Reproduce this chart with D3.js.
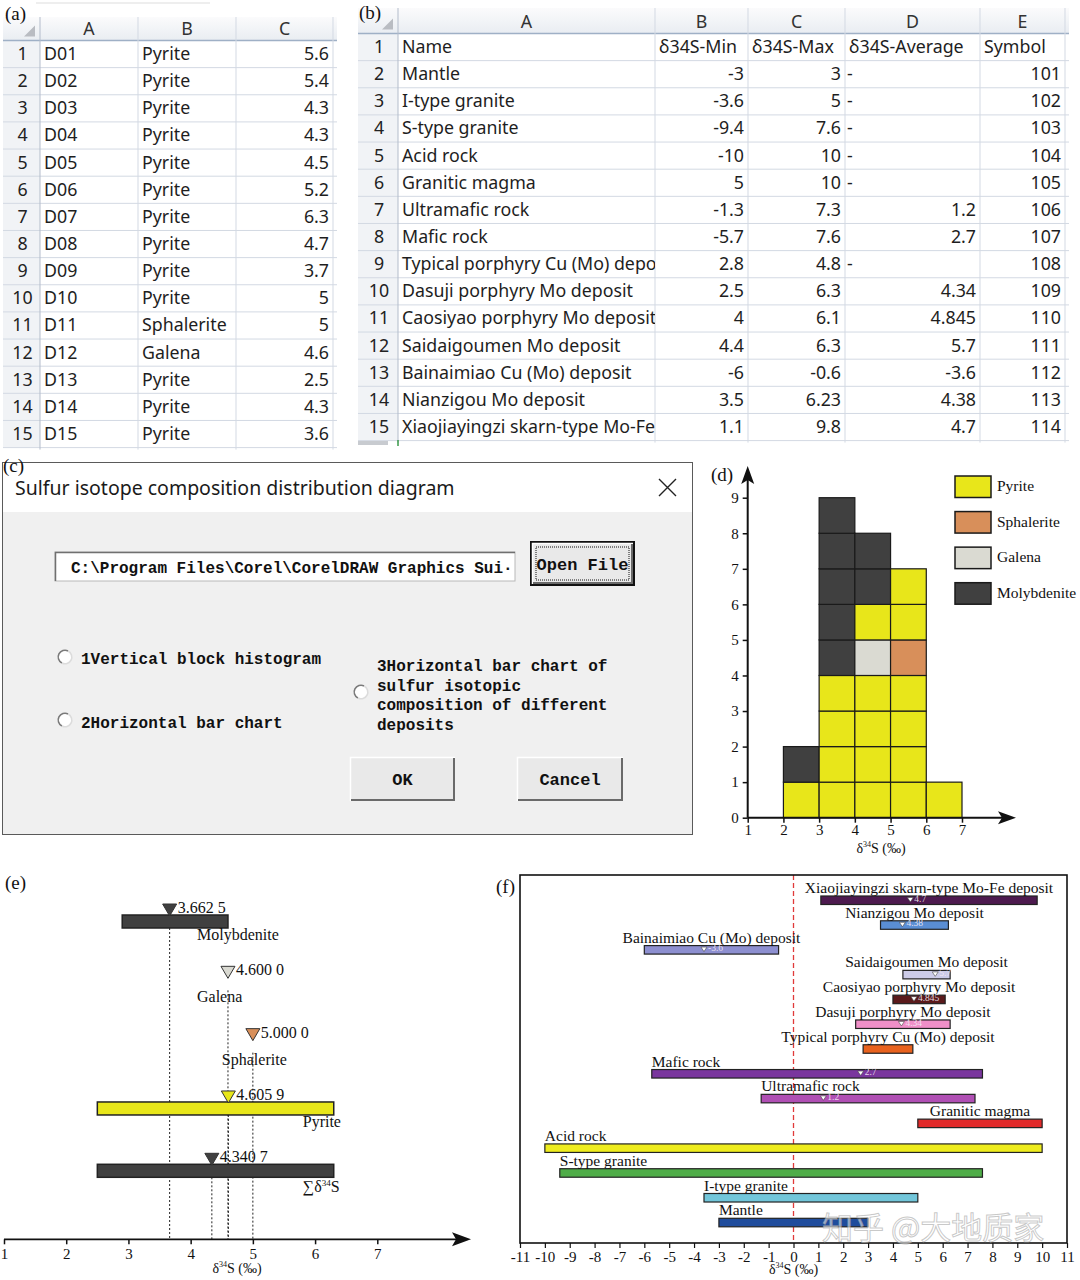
<!DOCTYPE html>
<html><head><meta charset="utf-8">
<script src="https://cdn.jsdelivr.net/npm/d3@7"></script>
<style>html,body{margin:0;padding:0;background:#fff}svg{display:block}</style>
</head><body>
<script>
// ---------------- DATA ----------------
const sampleIds = ["D01","D02","D03","D04","D05","D06","D07","D08","D09","D10","D11","D12","D13","D14","D15"];
const sampleMinerals = ["Pyrite","Pyrite","Pyrite","Pyrite","Pyrite","Pyrite","Pyrite","Pyrite","Pyrite","Pyrite","Sphalerite","Galena","Pyrite","Pyrite","Pyrite"];
const sampleValues = [5.6,5.4,4.3,4.3,4.5,5.2,6.3,4.7,3.7,5,5,4.6,2.5,4.3,3.6];

const depHeader = ["Name","δ34S-Min","δ34S-Max","δ34S-Average","Symbol"];
const depNames = ["Mantle","I-type granite","S-type granite","Acid rock","Granitic magma","Ultramafic rock","Mafic rock","Typical porphyry Cu (Mo) deposit","Dasuji porphyry Mo deposit","Caosiyao porphyry Mo deposit","Saidaigoumen Mo deposit","Bainaimiao Cu (Mo) deposit","Nianzigou Mo deposit","Xiaojiayingzi skarn-type Mo-Fe deposit"];
const depMin = [-3,-3.6,-9.4,-10,5,-1.3,-5.7,2.8,2.5,4,4.4,-6,3.5,1.1];
const depMax = [3,5,7.6,10,10,7.3,7.6,4.8,6.3,6.1,6.3,-0.6,6.23,9.8];
const depAvg = [null,null,null,null,null,1.2,2.7,null,4.34,4.845,5.7,-3.6,4.38,4.7];
const depSymbol = [101,102,103,104,105,106,107,108,109,110,111,112,113,114];

const dialogTitle = "Sulfur isotope composition distribution diagram";
const dialogPath = "C:\\Program Files\\Corel\\CorelDRAW Graphics Sui·";
const dialogOptions = ["1Vertical block histogram","2Horizontal bar chart"];
const dialogOption3 = ["3Horizontal bar chart of","sulfur isotopic","composition of different","deposits"];

// (d) block histogram: bins (left edge) and stacked blocks bottom->top
const blockBins = [2,3,4,5,6];
const blockStacks = [
  ["Pyrite","Molybdenite"],
  ["Pyrite","Pyrite","Pyrite","Pyrite","Molybdenite","Molybdenite","Molybdenite","Molybdenite","Molybdenite"],
  ["Pyrite","Pyrite","Pyrite","Pyrite","Galena","Pyrite","Molybdenite","Molybdenite"],
  ["Pyrite","Pyrite","Pyrite","Pyrite","Sphalerite","Pyrite","Pyrite"],
  ["Pyrite"]
];
const legendMinerals = ["Pyrite","Sphalerite","Galena","Molybdenite"];
const histXTicks = [1,2,3,4,5,6,7];
const histYTicks = [0,1,2,3,4,5,6,7,8,9];

// (e) horizontal bars per mineral
const barMinerals = ["Molybdenite","Galena","Sphalerite","Pyrite","Sum"];
const barMin = [2.9,4.6,5.0,2.5,2.5];
const barMax = [4.6,4.6,5.0,6.3,6.3];
const barMean = [3.6625,4.6,5.0,4.6059,4.3407];
const barXTicks = [1,2,3,4,5,6,7];

// (f) ticks
const depXTicks = d3.range(-11,12);

// ---------------- STYLE ----------------
const mineralColor = {Pyrite:"#e8e61a",Sphalerite:"#d88f5a",Galena:"#dadad2",Molybdenite:"#404040",Sum:"#404040"};
const depColor = ["#1f4c9c","#72c6da","#4fad48","#eeec1e","#e12a2a","#b04fb4","#7a369e","#e8621e","#f08fc8","#5a1a1c","#cccbe8","#8d8fd0","#5a8ed4","#4d1a4f"];
const depLabelCenter = [false,false,false,false,true,false,false,true,true,true,true,true,true,true];
const serif = "'Liberation Serif','Times New Roman',serif";
const sans = "'Noto Sans','Open Sans',sans-serif";
const mono = "'Liberation Mono','Courier New',monospace";
const sheetFont = 17.8;

const W = 1080, H = 1280;
const svg = d3.select("body").append("svg").attr("width",W).attr("height",H);
svg.append("rect").attr("width",W).attr("height",H).attr("fill","#fff");
const defs = svg.append("defs");
const hg = defs.append("linearGradient").attr("id","hdr").attr("x1",0).attr("x2",0).attr("y1",0).attr("y2",1);
hg.append("stop").attr("offset","0%").attr("stop-color","#fbfbfc");
hg.append("stop").attr("offset","100%").attr("stop-color","#e9edf2");

function panelLabel(txt,x,y){
  svg.append("text").attr("x",x).attr("y",y).attr("font-family",serif).attr("font-size",19).attr("fill","#111").text(txt);
}
function plainInt(d){ return String(d).replace("\u2212","-"); }

// ---------------- SPREADSHEETS ----------------
function drawSheet(o){
  const g = svg.append("g");
  const nR = o.rows.length;
  const yR = d3.scaleLinear().domain([0,nR]).range([o.top, o.top + nR*o.rowH]);
  const e = o.edges;
  const right = e[e.length-1];
  g.append("rect").attr("x",e[0]).attr("y",o.hTop).attr("width",right-e[0]+4).attr("height",o.top-o.hTop).attr("fill","url(#hdr)");
  g.append("rect").attr("x",e[0]).attr("y",o.top).attr("width",e[1]-e[0]).attr("height",nR*o.rowH).attr("fill","#f1f3f6");
  g.append("path").attr("d",`M${e[1]-5},${o.top-15} L${e[1]-5},${o.top-4} L${e[1]-16},${o.top-4} Z`).attr("fill","#b9bcc2");
  g.selectAll("line.h").data(d3.range(nR+1)).join("line")
    .attr("x1",e[0]).attr("x2",right+4).attr("y1",d=>yR(d)).attr("y2",d=>yR(d))
    .attr("stroke",d=>d===0?"#9fb0c6":"#d3d9e3").attr("stroke-width",d=>d===0?1.3:1);
  g.selectAll("line.v").data(e.slice(1)).join("line")
    .attr("x1",d=>d).attr("x2",d=>d).attr("y1",o.hTop).attr("y2",yR(nR)+2)
    .attr("stroke",(d,i)=>i===0?"#b3bccb":"#d3d9e3").attr("stroke-width",1);
  g.selectAll("text.col").data(o.letters).join("text")
    .attr("x",(d,i)=>(e[i+1]+e[i+2])/2).attr("y",o.top-6).attr("text-anchor","middle")
    .attr("font-family",sans).attr("font-size",sheetFont).attr("fill","#333").text(d=>d);
  g.selectAll("text.rn").data(d3.range(nR)).join("text")
    .attr("x",(e[0]+e[1])/2+1).attr("y",d=>yR(d)+o.rowH/2+6).attr("text-anchor","middle")
    .attr("font-family",sans).attr("font-size",sheetFont).attr("fill","#222").text(d=>d+1);
  o.letters.forEach((l,ci)=>{
    defs.append("clipPath").attr("id",o.id+"c"+ci).append("rect")
      .attr("x",e[ci+1]).attr("y",o.top).attr("width",e[ci+2]-e[ci+1]).attr("height",nR*o.rowH);
  });
  o.rows.forEach((row,ri)=>{
    row.forEach((c,ci)=>{
      if(c===null||c===undefined) return;
      const isNum = typeof c === "number";
      let txt = isNum ? String(c) : c;
      const left = !isNum;
      const x0 = left ? e[ci+1]+ (txt==="-"?2:4) : e[ci+2]-4;
      const t = g.append("text")
        .attr("clip-path",`url(#${o.id}c${ci})`)
        .attr("x", x0)
        .attr("y", yR(ri)+o.rowH/2+6)
        .attr("text-anchor", left?"start":"end")
        .attr("font-family",sans).attr("font-size",sheetFont).attr("fill","#1e1e1e").text(txt);
      if(left){
        const avail = e[ci+2]-x0+5;
        while(t.node().getComputedTextLength() > avail && txt.length>1){ txt = txt.slice(0,-1); t.text(txt); }
      }
    });
  });
  return g;
}

// (a)
svg.append("line").attr("x1",36).attr("x2",210).attr("y1",3).attr("y2",3).attr("stroke","#ddd");
drawSheet({id:"sa", hTop:17, top:40.5, rowH:27.14, edges:[3,40,138,236,333], letters:["A","B","C"],
  rows: sampleIds.map((d,i)=>[d, sampleMinerals[i], sampleValues[i]])});
panelLabel("(a)",5,20);

// (b)
drawSheet({id:"sb", hTop:8, top:33.5, rowH:27.14, edges:[358,398,655,748,845,980,1065], letters:["A","B","C","D","E"],
  rows: [depHeader].concat(depNames.map((d,i)=>[d, depMin[i], depMax[i], depAvg[i]===null?"-":depAvg[i], depSymbol[i]]))});
svg.append("rect").attr("x",358).attr("y",441).attr("width",30).attr("height",4).attr("fill","#c8cbd0");
svg.append("line").attr("x1",398).attr("x2",398).attr("y1",440).attr("y2",446).attr("stroke","#3a9a4a").attr("stroke-width",1.5);
panelLabel("(b)",359,19);

// ---------------- (c) DIALOG ----------------
(function(){
  const g = svg.append("g");
  g.append("rect").attr("x",2.5).attr("y",462.5).attr("width",690).attr("height",372).attr("fill","#f0f0f0").attr("stroke","#5a5a5a");
  g.append("rect").attr("x",3).attr("y",463).attr("width",689).attr("height",49).attr("fill","#fff");
  g.append("text").attr("x",15).attr("y",495).attr("font-family",sans).attr("font-size",19.5).attr("fill","#1a1a1a").text(dialogTitle);
  g.append("path").attr("d","M659,479 L676,496 M676,479 L659,496").attr("stroke","#222").attr("stroke-width",1.4);
  g.append("rect").attr("x",55).attr("y",552).attr("width",460).attr("height",29).attr("fill","#fff").attr("stroke","#b8b8b8");
  g.append("path").attr("d","M55.5,581 L55.5,552.5 L515,552.5").attr("fill","none").attr("stroke","#707070").attr("stroke-width",1.5);
  g.append("text").attr("x",71).attr("y",573).attr("font-family",mono).attr("font-weight","bold").attr("font-size",16).attr("fill","#111").text(dialogPath);
  function button(x,y,w,h,label,def){
    const b = g.append("g");
    if(def) b.append("rect").attr("x",x).attr("y",y).attr("width",w).attr("height",h).attr("fill","#111");
    const ix = def?x+2:x, iy=def?y+2:y, iw=def?w-4:w, ih=def?h-4:h;
    b.append("rect").attr("x",ix).attr("y",iy).attr("width",iw).attr("height",ih).attr("fill","#e9e9e9");
    b.append("path").attr("d",`M${ix+0.5},${iy+ih} L${ix+0.5},${iy+0.5} L${ix+iw},${iy+0.5}`).attr("fill","none").attr("stroke","#fff").attr("stroke-width",1.5);
    b.append("path").attr("d",`M${ix+iw-1},${iy+1} L${ix+iw-1},${iy+ih-1} L${ix+1},${iy+ih-1}`).attr("fill","none").attr("stroke","#6a6a6a").attr("stroke-width",2);
    if(def) b.append("rect").attr("x",ix+4).attr("y",iy+4).attr("width",iw-8).attr("height",ih-8).attr("fill","none").attr("stroke","#111").attr("stroke-dasharray","1,1");
    b.append("text").attr("x",x+w/2).attr("y",y+h/2+6).attr("text-anchor","middle").attr("font-family",mono).attr("font-weight","bold").attr("font-size",17).attr("fill","#111").text(label);
  }
  button(530,541,105,45,"Open File",true);
  button(350,757,105,44,"OK",false);
  button(517,757,106,44,"Cancel",false);
  function radio(cx,cy){
    g.append("circle").attr("cx",cx).attr("cy",cy).attr("r",7).attr("fill","#fff");
    const a = d3.arc().innerRadius(6).outerRadius(7.6);
    g.append("path").attr("transform",`translate(${cx},${cy})`).attr("d",a({startAngle:-Math.PI*0.85,endAngle:Math.PI*0.15})).attr("fill","#7a7a7a");
    g.append("path").attr("transform",`translate(${cx},${cy})`).attr("d",a({startAngle:Math.PI*0.15,endAngle:Math.PI*1.15})).attr("fill","#dcdcdc");
  }
  radio(65,657); radio(65,720); radio(361,692);
  dialogOptions.forEach((t,i)=>{
    g.append("text").attr("x",81).attr("y",[664,728][i]).attr("font-family",mono).attr("font-weight","bold").attr("font-size",16).attr("fill","#111").text(t);
  });
  dialogOption3.forEach((t,i)=>{
    g.append("text").attr("x",377).attr("y",671+i*19.5).attr("font-family",mono).attr("font-weight","bold").attr("font-size",16).attr("fill","#111").text(t);
  });
})();
panelLabel("(c)",3,472);

// ---------------- (d) BLOCK HISTOGRAM ----------------
(function(){
  const g = svg.append("g");
  const x = d3.scaleLinear().domain([1,7]).range([747.7,962]);
  const y = d3.scaleLinear().domain([0,9]).range([817.7,497.7]);
  blockBins.forEach((b,bi)=>{
    g.selectAll(null).data(blockStacks[bi]).join("rect")
      .attr("x",x(b)).attr("y",(d,k)=>y(k+1)).attr("width",x(b+1)-x(b)).attr("height",(d,k)=>y(k)-y(k+1))
      .attr("fill",d=>mineralColor[d]).attr("stroke","#1a1a1a").attr("stroke-width",1.2);
  });
  const ax = g.append("g").attr("transform",`translate(0,${y(0)})`).call(d3.axisBottom(x).tickValues(histXTicks).tickSize(5).tickPadding(2).tickFormat(plainInt));
  const ay = g.append("g").attr("transform",`translate(${x(1)},0)`).call(d3.axisLeft(y).tickValues(histYTicks).tickSize(5).tickFormat(plainInt));
  [ax,ay].forEach(a=>{a.select(".domain").remove();a.selectAll("line").attr("stroke","#111").attr("stroke-width",1.5);
    a.selectAll("text").attr("font-family",serif).attr("font-size",15).attr("fill","#111");});
  ax.selectAll("text").attr("dy","0.7em");
  ay.selectAll("text").attr("dx","-1");
  g.append("line").attr("x1",x(1)).attr("x2",1002).attr("y1",y(0)).attr("y2",y(0)).attr("stroke","#111").attr("stroke-width",2);
  g.append("line").attr("x1",x(1)).attr("x2",x(1)).attr("y1",y(0)).attr("y2",480).attr("stroke","#111").attr("stroke-width",2);
  g.append("path").attr("d",`M1016,${y(0)} L998,${y(0)-6.5} L1002,${y(0)} L998,${y(0)+6.5} Z`).attr("fill","#111");
  g.append("path").attr("d",`M${x(1)},466 L${x(1)-6.5},484 L${x(1)},480 L${x(1)+6.5},484 Z`).attr("fill","#111");
  const t = g.append("text").attr("x",881).attr("y",853).attr("text-anchor","middle").attr("font-family",serif).attr("font-size",14).attr("fill","#111");
  t.append("tspan").text("δ"); t.append("tspan").attr("dy",-6).attr("font-size",8).text("34"); t.append("tspan").attr("dy",6).text("S (‰)");
  const ly = d3.scalePoint().domain(legendMinerals).range([476,582.7]);
  g.selectAll(null).data(legendMinerals).join("rect")
    .attr("x",955).attr("y",d=>ly(d)).attr("width",36).attr("height",21.5).attr("fill",d=>mineralColor[d]).attr("stroke","#1a1a1a").attr("stroke-width",1.5);
  g.selectAll(null).data(legendMinerals).join("text")
    .attr("x",997).attr("y",d=>ly(d)+15).attr("font-family",serif).attr("font-size",15.5).attr("fill","#111").text(d=>d);
})();
panelLabel("(d)",711,481);

// ---------------- (e) HORIZONTAL BARS ----------------
(function(){
  const g = svg.append("g");
  const x = d3.scaleLinear().domain([1,7]).range([4,377.3]);
  const yb = d3.scalePoint().domain(barMinerals).range([915,1164.3]);
  const bh = 13, axisY = 1239.3;
  const fmt = v => { const s = d3.format(".4f")(v); return s.slice(0,-1)+" "+s.slice(-1); };
  g.selectAll(null).data(barMinerals).join("line")
    .attr("x1",(d,i)=>x(barMean[i])).attr("x2",(d,i)=>x(barMean[i]))
    .attr("y1",d=>yb(d)+bh).attr("y2",axisY)
    .attr("stroke","#222").attr("stroke-width",1).attr("stroke-dasharray","2,2");
  g.selectAll(null).data(barMinerals).join("rect")
    .attr("x",(d,i)=>x(barMin[i])).attr("y",d=>yb(d)).attr("width",(d,i)=>x(barMax[i])-x(barMin[i])).attr("height",bh)
    .attr("fill",d=>mineralColor[d]).attr("stroke","#222").attr("stroke-width",1.5);
  g.selectAll(null).data(barMinerals).join("path")
    .attr("d",(d,i)=>{const cx=x(barMean[i]), ty=yb(d); return `M${cx},${ty+1} L${cx-7},${ty-11} L${cx+7},${ty-11} Z`;})
    .attr("fill",d=>mineralColor[d]).attr("stroke","#333").attr("stroke-width",1);
  g.selectAll(null).data(barMinerals).join("text")
    .attr("x",(d,i)=>x(barMean[i])+8).attr("y",d=>yb(d)-2)
    .attr("font-family",serif).attr("font-size",16).attr("fill","#111").text((d,i)=>fmt(barMean[i]));
  const names = g.selectAll(null).data(barMinerals).join("text")
    .attr("x",(d,i)=>x(barMax[i])-31).attr("y",(d,i)=>yb(d)+bh+12+(d==="Sum"?3:0))
    .attr("font-family",serif).attr("font-size",16).attr("fill","#111");
  names.each(function(d){
    const t = d3.select(this);
    if(d==="Sum"){ t.append("tspan").text("∑δ"); t.append("tspan").attr("dy",-6).attr("font-size",9).text("34"); t.append("tspan").attr("dy",6).text("S"); }
    else t.text(d);
  });
  const ax = g.append("g").attr("transform",`translate(0,${axisY})`).call(d3.axisBottom(x).tickValues(barXTicks).tickSize(5).tickFormat(plainInt));
  ax.select(".domain").remove();
  ax.selectAll("line").attr("stroke","#111").attr("stroke-width",1.5);
  ax.selectAll("text").attr("font-family",serif).attr("font-size",15).attr("fill","#111").attr("dy","0.75em");
  g.append("line").attr("x1",x(1)).attr("x2",456).attr("y1",axisY).attr("y2",axisY).attr("stroke","#111").attr("stroke-width",1.8);
  g.append("path").attr("d",`M471,${axisY} L452,${axisY-7} L456,${axisY} L452,${axisY+7} Z`).attr("fill","#111");
  const t = g.append("text").attr("x",237).attr("y",1273).attr("text-anchor","middle").attr("font-family",serif).attr("font-size",14).attr("fill","#111");
  t.append("tspan").text("δ"); t.append("tspan").attr("dy",-6).attr("font-size",8).text("34"); t.append("tspan").attr("dy",6).text("S (‰)");
})();
panelLabel("(e)",5,889);

// ---------------- (f) DEPOSIT BARS ----------------
(function(){
  const g = svg.append("g");
  const x = d3.scaleLinear().domain([-11,11]).range([520,1067]);
  const order = depNames.slice().reverse();
  const y = d3.scalePoint().domain(order).range([896,1218.3]);
  const bh = 8.5, top = 875, bottom = 1243;
  g.append("line").attr("x1",x(0)).attr("x2",x(0)).attr("y1",top).attr("y2",bottom).attr("stroke","#e03a3a").attr("stroke-width",1.3).attr("stroke-dasharray","5,3");
  g.selectAll(null).data(depNames).join("rect")
    .attr("x",(d,i)=>x(depMin[i])).attr("y",d=>y(d)).attr("width",(d,i)=>x(depMax[i])-x(depMin[i])).attr("height",bh)
    .attr("fill",(d,i)=>depColor[i]).attr("stroke","#222").attr("stroke-width",1.2);
  g.selectAll(null).data(depNames).join("text")
    .attr("x",(d,i)=>depLabelCenter[i]?(x(depMin[i])+x(depMax[i]))/2:x(depMin[i]))
    .attr("y",d=>y(d)-3).attr("text-anchor",(d,i)=>depLabelCenter[i]?"middle":"start")
    .attr("font-family",serif).attr("font-size",15.5).attr("fill","#111").text(d=>d);
  depNames.forEach((d,i)=>{
    if(depAvg[i]===null) return;
    const cx = x(depAvg[i]), ty = y(d);
    g.append("path").attr("d",`M${cx},${ty+6} L${cx-3},${ty+1.5} L${cx+3},${ty+1.5} Z`).attr("fill","#fff").attr("stroke","#444").attr("stroke-width",0.6);
    const t = g.append("text").attr("y",ty+bh-2.8).attr("font-family",serif).attr("font-size",9.5).attr("fill","#f4eaf4").attr("fill-opacity",0.9).text(String(depAvg[i]));
    const len = t.node().getComputedTextLength();
    if(cx+4+len > x(depMax[i])+1) t.attr("x",cx-5).attr("text-anchor","end");
    else t.attr("x",cx+4);
  });
  g.append("rect").attr("x",520).attr("y",top).attr("width",547).attr("height",bottom-top).attr("fill","none").attr("stroke","#111").attr("stroke-width",1.6);
  const ax = g.append("g").attr("transform",`translate(0,${bottom})`).call(d3.axisBottom(x).tickValues(depXTicks).tickSize(5).tickFormat(plainInt));
  ax.select(".domain").remove();
  ax.selectAll("line").attr("stroke","#111").attr("stroke-width",1.2);
  ax.selectAll("text").attr("font-family",serif).attr("font-size",15).attr("fill","#111").attr("dy","0.7em");
  const t = g.append("text").attr("x",x(0)).attr("y",1274).attr("text-anchor","middle").attr("font-family",serif).attr("font-size",14).attr("fill","#111");
  t.append("tspan").text("δ"); t.append("tspan").attr("dy",-6).attr("font-size",8).text("34"); t.append("tspan").attr("dy",6).text("S (‰)");
  // watermark (present in the reference image)
  g.append("text").attr("x",822).attr("y",1239).attr("font-family","'Noto Sans CJK SC',sans-serif").attr("font-size",31)
    .attr("fill","#ffffff").attr("fill-opacity",0.55).attr("stroke","#9a9a9a").attr("stroke-opacity",0.55).attr("stroke-width",1).text("知乎 @大地质家");
})();
panelLabel("(f)",496,893);
</script>
</body></html>
